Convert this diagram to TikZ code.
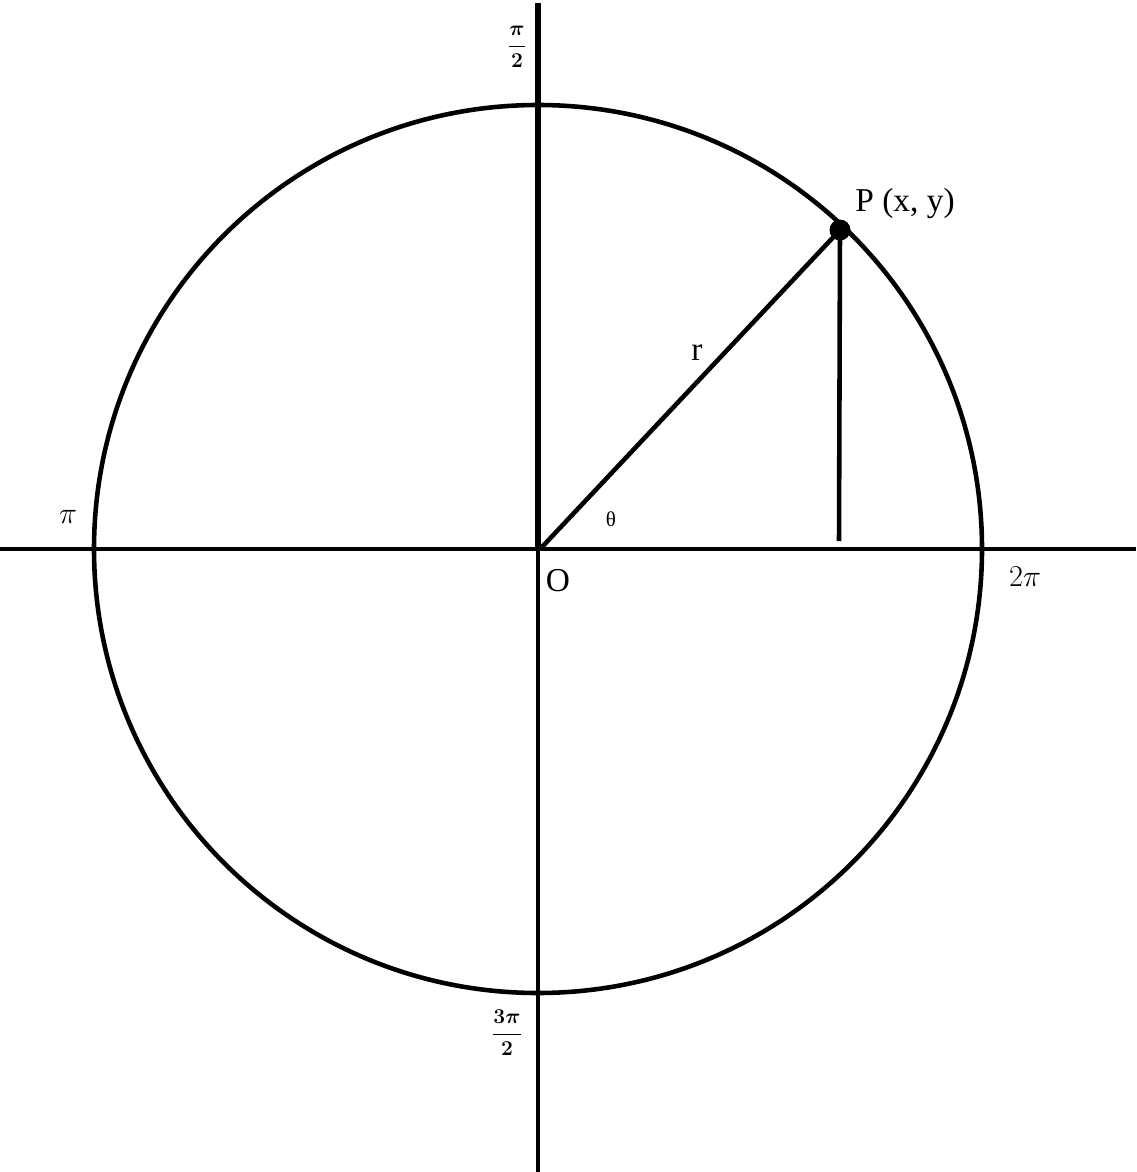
\documentclass[tikz,border=0pt]{standalone}
\usepackage{amsmath}
\usepackage{fontspec}
\setmainfont{Liberation Serif}
\usepackage{tikz}
\usetikzlibrary{positioning,calc}
\tikzstyle{line} = [draw,line width=2.6pt]
\tikzstyle{thinline} = [draw,line width=2.1pt]
\tikzstyle{lbl} = [inner sep=0pt,font=\fontsize{19}{22}\selectfont]
\tikzstyle{frac} = [inner sep=0pt,font=\fontsize{13}{15}\selectfont\boldmath]

\begin{document}
\begin{tikzpicture}[x=0.02cm,y=-0.02cm]
          \useasboundingbox (0,0) rectangle (1136,1172);
          \coordinate (O) at (538,549);
          \coordinate (top) at (538,3);
          \coordinate (bottom) at (538,1172);
          \coordinate (left) at (0,549);
          \coordinate (right) at (1136,549);
          \coordinate (foot) at (839,541);
          \coordinate (start) at (542,547);
          % circle and axes
          \draw[line] (O) circle (444);
          \path[line] (left) -- (right);
          \path[draw,line width=3.2pt] (top) -- (O);
          \path[thinline] (O) -- (bottom);
          % point P
          \node[circle,fill=black,inner sep=0pt,minimum size=0.42cm] (P) at (840,230) {};
          \path[line] (start) -- (P.center);
          \path[line] (P.center) -- (foot);
          % labels
          \node[lbl] (Plbl) at (905,204) {P (x, y)};
          \node[lbl] (Olbl) at (558,581) {O};
          \node[lbl] (rlbl) at (697,353) {r};
          \node[inner sep=0pt,font=\fontsize{12}{14}\selectfont] (theta) at (611,519) {θ};
          \node[frac] (halfpi) at (517,47) {$\dfrac{\pi}{2}$};
          \node[frac] (threehalfpi) at (507,1033) {$\dfrac{3\pi}{2}$};
          \node[inner sep=0pt,font=\fontsize{17}{19}\selectfont] (pi) at (68,517) {$\pi$};
          \node[inner sep=0pt,font=\fontsize{17}{19}\selectfont] (twopi) at (1025,577) {$2\pi$};
\end{tikzpicture}
\end{document}
